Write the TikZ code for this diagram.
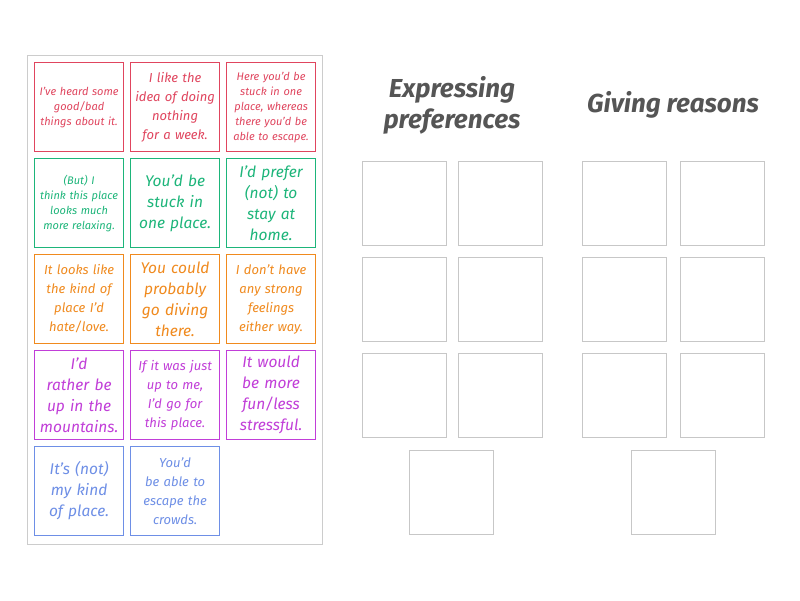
\documentclass[tikz,border=0pt]{standalone}
\usepackage{fontspec}
\setmainfont{Fira Sans}
\hyphenpenalty=10000
\exhyphenpenalty=10000
\definecolor{cr}{HTML}{E0455E}
\definecolor{cg}{HTML}{1DB57A}
\definecolor{co}{HTML}{F08A1E}
\definecolor{cp}{HTML}{C13ED8}
\definecolor{cb}{HTML}{6E8FE6}
\definecolor{tt}{HTML}{555555}
\tikzset{
 card/.style={draw=#1,text=#1,line width=1.2pt,minimum width=89pt,minimum height=89pt,inner sep=2pt,align=center,text width=82pt,anchor=north west},
 fs/.style={font=\fontsize{11}{15}\selectfont\itshape},
 fm/.style={font=\fontsize{13}{19}\selectfont\itshape},
 fl/.style={font=\fontsize{15.5}{21}\selectfont\itshape},
 slot/.style={draw=black!22,line width=0.7pt,minimum width=84pt,minimum height=84pt,anchor=north west},
 ttl/.style={text=tt,font=\fontsize{26}{31}\selectfont\bfseries\itshape,align=center}
}
\begin{document}
\begin{tikzpicture}[x=1pt,y=-1pt]
\useasboundingbox (0,0) rectangle (800,600);
\fill[white] (0,0) rectangle (800,600);
\node[draw=black!20,line width=0.7pt,minimum width=295pt,minimum height=489pt,anchor=north west] (panel) at (27,55) {};
\node[card=cr,fs] (c11) at (34,62) {I've heard some\\ good/bad things about it.};
\node[card=cr,fm] (c12) at (130,62) {I like the idea of doing nothing for a week.};
\node[card=cr,fs] (c13) at (226,62) {Here you'd be stuck in one place, whereas there you'd be able to escape.};
\node[card=cg,fs] (c21) at (34,158) {(But) I\\ think this place looks much more relaxing.};
\node[card=cg,fl] (c22) at (130,158) {You'd be stuck in one place.};
\node[card=cg,fl] (c23) at (226,158) {I'd prefer (not) to stay at home.};
\node[card=co,fm] (c31) at (34,254) {It looks like the kind of place I'd hate/love.};
\node[card=co,fl] (c32) at (130,254) {You could probably go diving there.};
\node[card=co,fm] (c33) at (226,254) {I don't have any strong feelings either way.};
\node[card=cp,fl] (c41) at (34,350) {I'd\\ rather be up in the mountains.};
\node[card=cp,fm] (c42) at (130,350) {If it was just up to me, I'd go for this place.};
\node[card=cp,fl] (c43) at (226,350) {It would be more fun/less stressful.};
\node[card=cb,fl] (c51) at (34,446) {It's (not) my kind of place.};
\node[card=cb,fm] (c52) at (130,446) {You'd\\ be able to escape the crowds.};
\node[ttl] (t1) at (452,105) {Expressing\\preferences};
\node[ttl] (t2) at (673,105) {Giving reasons};
\foreach \y [count=\i] in {161,257,353}{
 \node[slot] (a\i) at (362,\y) {};
 \node[slot] (b\i) at (458,\y) {};
 \node[slot] (g\i) at (582,\y) {};
 \node[slot] (h\i) at (680,\y) {};
}
\node[slot] (a4) at (409,450) {};
\node[slot] (g4) at (631,450) {};
\end{tikzpicture}
\end{document}
